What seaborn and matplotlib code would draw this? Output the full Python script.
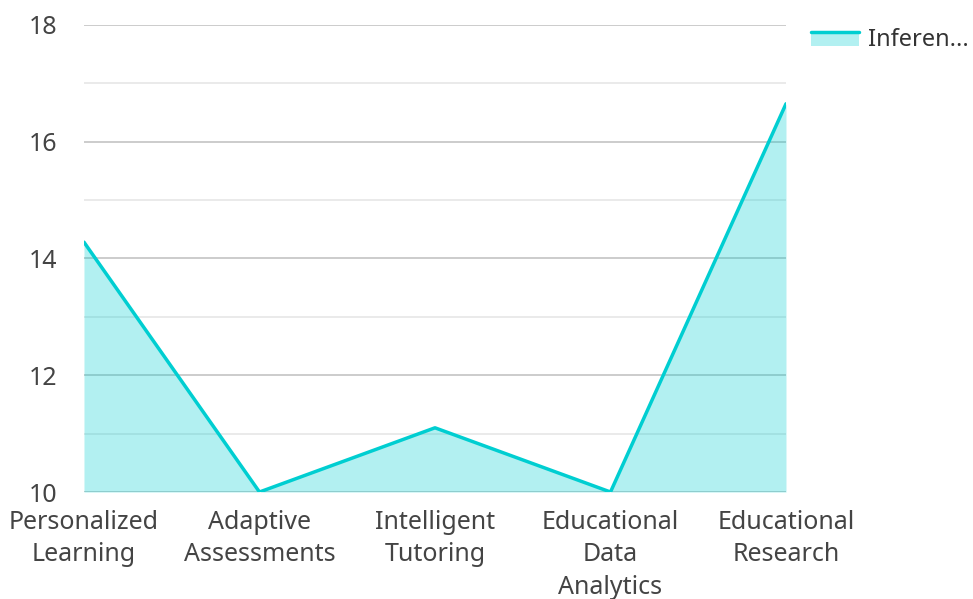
import numpy as np
import pandas as pd
import matplotlib
matplotlib.use("Agg")
import matplotlib.pyplot as plt
from matplotlib.patches import Rectangle
from matplotlib.lines import Line2D
from matplotlib.legend_handler import HandlerBase
import seaborn as sns

# Data
categories = ["Personalized\nLearning", "Adaptive\nAssessments", "Intelligent\nTutoring",
              "Educational\nData\nAnalytics", "Educational\nResearch"]
values = [14.28, 10.0, 11.1, 10.0, 16.65]
series_name = "Inferen..."

df = pd.DataFrame({"x": np.arange(len(categories)), "y": values})

sns.set_style("white")
plt.rcParams["font.family"] = ["Noto Sans", "DejaVu Sans"]

line_color = "#00CED1"
text_color = "#444444"
fs = 18


class AreaHandler(HandlerBase):
    # legend key: filled area with the line along its top edge
    def create_artists(self, legend, orig_handle, xdescent, ydescent,
                       width, height, fontsize, trans):
        x0, y0 = -xdescent, -ydescent
        rect = Rectangle((x0, y0), width, height * 0.85, facecolor=line_color,
                         alpha=0.3, edgecolor="none", transform=trans)
        line = Line2D([x0, x0 + width], [y0 + height * 0.85] * 2,
                      color=line_color, lw=2.5, transform=trans)
        return [rect, line]


fig = plt.figure(figsize=(9.73, 5.99), dpi=100)
ax = fig.add_axes([0.0863, 0.1786, 0.7215, 0.7797])

# Gridlines: major every 2, minor in between
for v in [11, 13, 15, 17]:
    ax.axhline(v, color="#e6e6e6", lw=1.2, zorder=0)
for v in [10, 12, 14, 16, 18]:
    ax.axhline(v, color="#c8c8c8", lw=1.3, zorder=0)

ax.fill_between(df["x"], 10, df["y"], color=line_color, alpha=0.3, lw=0, zorder=1)
sns.lineplot(data=df, x="x", y="y", color=line_color, lw=2.5, ax=ax, zorder=2)

ax.set_xlim(0, len(categories) - 1)
ax.set_ylim(10, 18)
ax.set_xticks(range(len(categories)))
ax.set_xticklabels(categories, fontsize=fs, color=text_color, linespacing=1.38)
ax.set_yticks([10, 12, 14, 16, 18])
ax.tick_params(axis="y", labelsize=fs, colors=text_color, length=0, pad=19)
ax.tick_params(axis="x", length=0, pad=13)
ax.set_xlabel("")
ax.set_ylabel("")
sns.despine(ax=ax, left=True, bottom=True)

fig.legend([object()], [series_name], handler_map={object: AreaHandler()},
           loc="upper left", bbox_to_anchor=(0.834, 0.953), borderaxespad=0,
           borderpad=0, frameon=False, fontsize=17, handlelength=2.0,
           handletextpad=0.4, labelcolor="#333333")

fig.savefig("out.png", dpi=100)
